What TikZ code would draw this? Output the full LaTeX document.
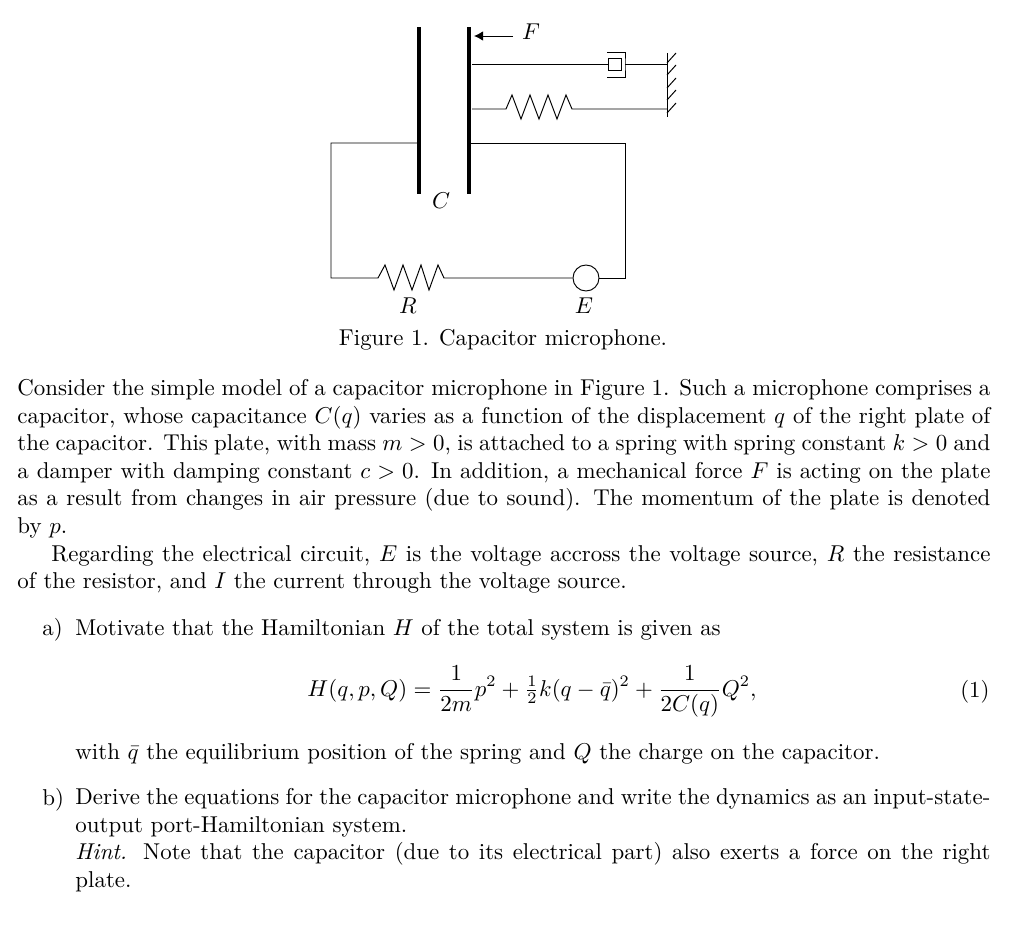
\documentclass[tikz,border=0pt]{standalone}
\usepackage{amsmath}
\usetikzlibrary{arrows.meta}
\newdimen\pw
\pw=0.4367pt
\tikzset{
	wire/.style={line width=0.42pt},
	plate/.style={line width=2pt},
	mathlabel/.style={inner sep=0pt},
	bodytext/.style={anchor=north west, inner sep=0pt, text width=#1, align=justify, font=\fontsize{10}{12.03}\selectfont},
	plaintext/.style={anchor=base west, inner sep=0pt, font=\fontsize{10}{12.03}\selectfont}
}
\begin{document}
\begin{tikzpicture}[x=0.4367pt, y=-0.4367pt]
	\useasboundingbox (0,0) rectangle (1024,932);

	% capacitor plates
	\coordinate (PL1) at (419,27);
	\coordinate (PL2) at (419,194);
	\coordinate (PR1) at (469,27);
	\coordinate (PR2) at (469,194);
	\draw[plate] (PL1) -- (PL2);
	\draw[plate] (PR1) -- (PR2);

	% force
	\node[mathlabel] (F) at (531,32) {$F$};
	\coordinate (FT) at (474,36);
	\coordinate (FS) at (513,36);
	\draw[wire, -{Latex[length=4pt,width=4.2pt]}] (FS) -- (FT);

	% wall
	\coordinate (W1) at (667,53);
	\coordinate (W2) at (667,117);
	\draw[wire] (W1) -- (W2);
	\foreach \y in {63,75,88,100,113}
		\draw[wire] (667,\y) -- ++(9,-10);

	% damper
	\node[draw, wire, minimum width=13*\pw, minimum height=12*\pw, inner sep=0pt] (D) at (614.5,64) {};
	\coordinate (D1) at (472,64);
	\coordinate (D2) at (625,64);
	\coordinate (W3) at (667,64);
	\draw[wire] (D1) -- (D.west);
	\draw[wire] (607,52) -- (625,52) -- (D2) -- (625,77) -- (607,77);
	\draw[wire] (D2) -- (W3);

	% spring
	\coordinate (S1) at (472,109);
	\coordinate (W4) at (667,109);
	\draw[wire] (S1) -- (506,109) -- (512,95) -- (521,119) -- (530,95) -- (539,119) -- (548,95) -- (557,119) -- (566,95) -- (572,109) -- (W4);

	% circuit
	\node[draw, wire, circle, minimum size=26*\pw, inner sep=0pt] (E) at (586,278) {};
	\draw[wire] (PL1 |- 0,143) -- (331,143) -- (331,278) -- (378,278) -- (385,265) -- (394,290) -- (403,265) -- (412,290) -- (421,265) -- (429,290) -- (438,265) -- (444,278) -- (E.west);
	\draw[wire] (E.east) -- (625,278) -- (625,143) -- (PR1 |- 0,143);

	\node[mathlabel] (C) at (441,201) {$C$};
	\node[mathlabel] (R) at (408,306) {$R$};
	\node[mathlabel] (EL) at (584,306) {$E$};
	\node[plaintext, anchor=base] (caption) at (503,345) {Figure 1. Capacitor microphone.};

	% text
	\node[bodytext=973*\pw] (par1) at (17,379) {Consider the simple model of a capacitor microphone in Figure 1. Such a microphone comprises a capacitor, whose capacitance $C(q)$ varies as a function of the displacement $q$ of the right plate of the capacitor. This plate, with mass $m>0$, is attached to a spring with spring constant $k>0$ and a damper with damping constant $c>0$. In addition, a mechanical force $F$ is acting on the plate\linebreak as a result from changes in air pressure (due to sound). The momentum of the plate is denoted\linebreak by $p$.};
	\node[bodytext=973*\pw] (par2) at (17,545) {\hspace*{34\pw}Regarding the electrical circuit, $E$ is the voltage accross the voltage source, $R$ the resistance\linebreak of the resistor, and $I$ the current through the voltage source.};

	\node[plaintext] (a) at (42,635) {a)};
	\node[plaintext] (atext) at (75,635) {Motivate that the Hamiltonian $H$ of the total system is given as};
	\node[inner sep=0pt, anchor=base] (eq) at (532,696) {$\displaystyle H(q,p,Q)=\frac{1}{2m}p^2+\tfrac12 k(q-\bar q)^2+\frac{1}{2C(q)}Q^2,$};
	\node[plaintext, anchor=base east] (eqnum) at (990,697) {(1)};
	\node[plaintext] (awith) at (75,759) {with $\bar q$ the equilibrium position of the spring and $Q$ the charge on the capacitor.};

	\node[plaintext] (b) at (42,805) {b)};
	\node[bodytext=915*\pw] (btext) at (75,788) {Derive the equations for the capacitor microphone and write the dynamics as an input-state-output port-Hamiltonian system.\\
	\textit{Hint.} Note that the capacitor (due to its electrical part) also exerts a force on the right\linebreak plate.};
\end{tikzpicture}
\end{document}
